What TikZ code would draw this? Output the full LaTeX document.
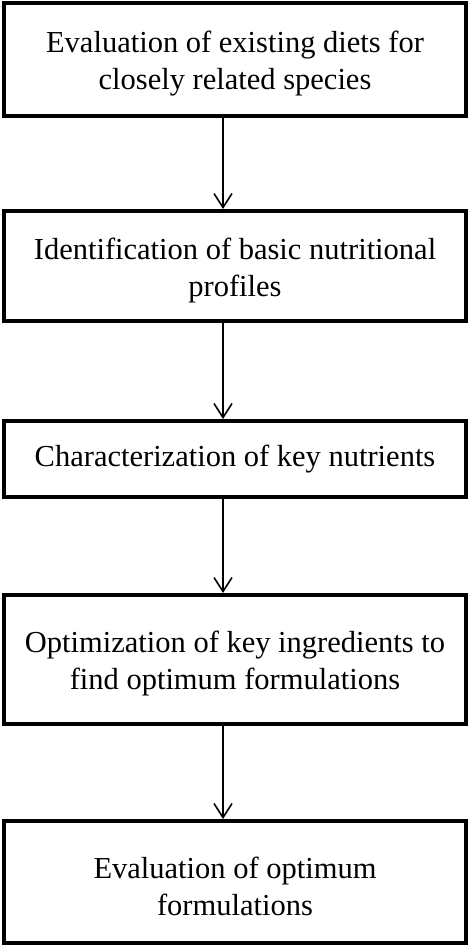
\documentclass[tikz,border=0pt]{standalone}
\usepackage{fontspec}
\setmainfont{Liberation Serif}
\usetikzlibrary{arrows.meta}
\newcommand{\lowstrut}{\rule{0pt}{30pt}}
\begin{document}
\begin{tikzpicture}[x=1pt,y=1pt,
  stepbox/.style={draw=black, line width=4pt, fill=white, minimum width=462pt,
    align=center, inner sep=0pt, font=\fontsize{30.5}{37}\selectfont},
  flowarrow/.style={line width=1.6pt, -{Straight Barb[length=14pt,width=18pt,line width=1.6pt]}}]
\useasboundingbox (0,0) rectangle (474,-948);
\node[stepbox, minimum height=113pt] (b1) at (235,-59.5) {\lowstrut Evaluation of existing diets for\\closely related species};
\node[stepbox, minimum height=110pt] (b2) at (235,-266) {\lowstrut Identification of basic nutritional\\profiles};
\node[stepbox, minimum height=76pt] (b3) at (235,-459) {Characterization of key nutrients};
\node[stepbox, minimum height=129pt] (b4) at (235,-659.5) {\lowstrut Optimization of key ingredients to\\find optimum formulations};
\node[stepbox, minimum height=122pt] (b5) at (235,-882) {\lowstrut Evaluation of optimum\\formulations};
\coordinate (ax) at (223,0);
\draw[flowarrow] (b1.south -| ax) -- (b2.north -| ax);
\draw[flowarrow] (b2.south -| ax) -- (b3.north -| ax);
\draw[flowarrow] (b3.south -| ax) -- (b4.north -| ax);
\draw[flowarrow] (b4.south -| ax) -- (b5.north -| ax);
\end{tikzpicture}
\end{document}
